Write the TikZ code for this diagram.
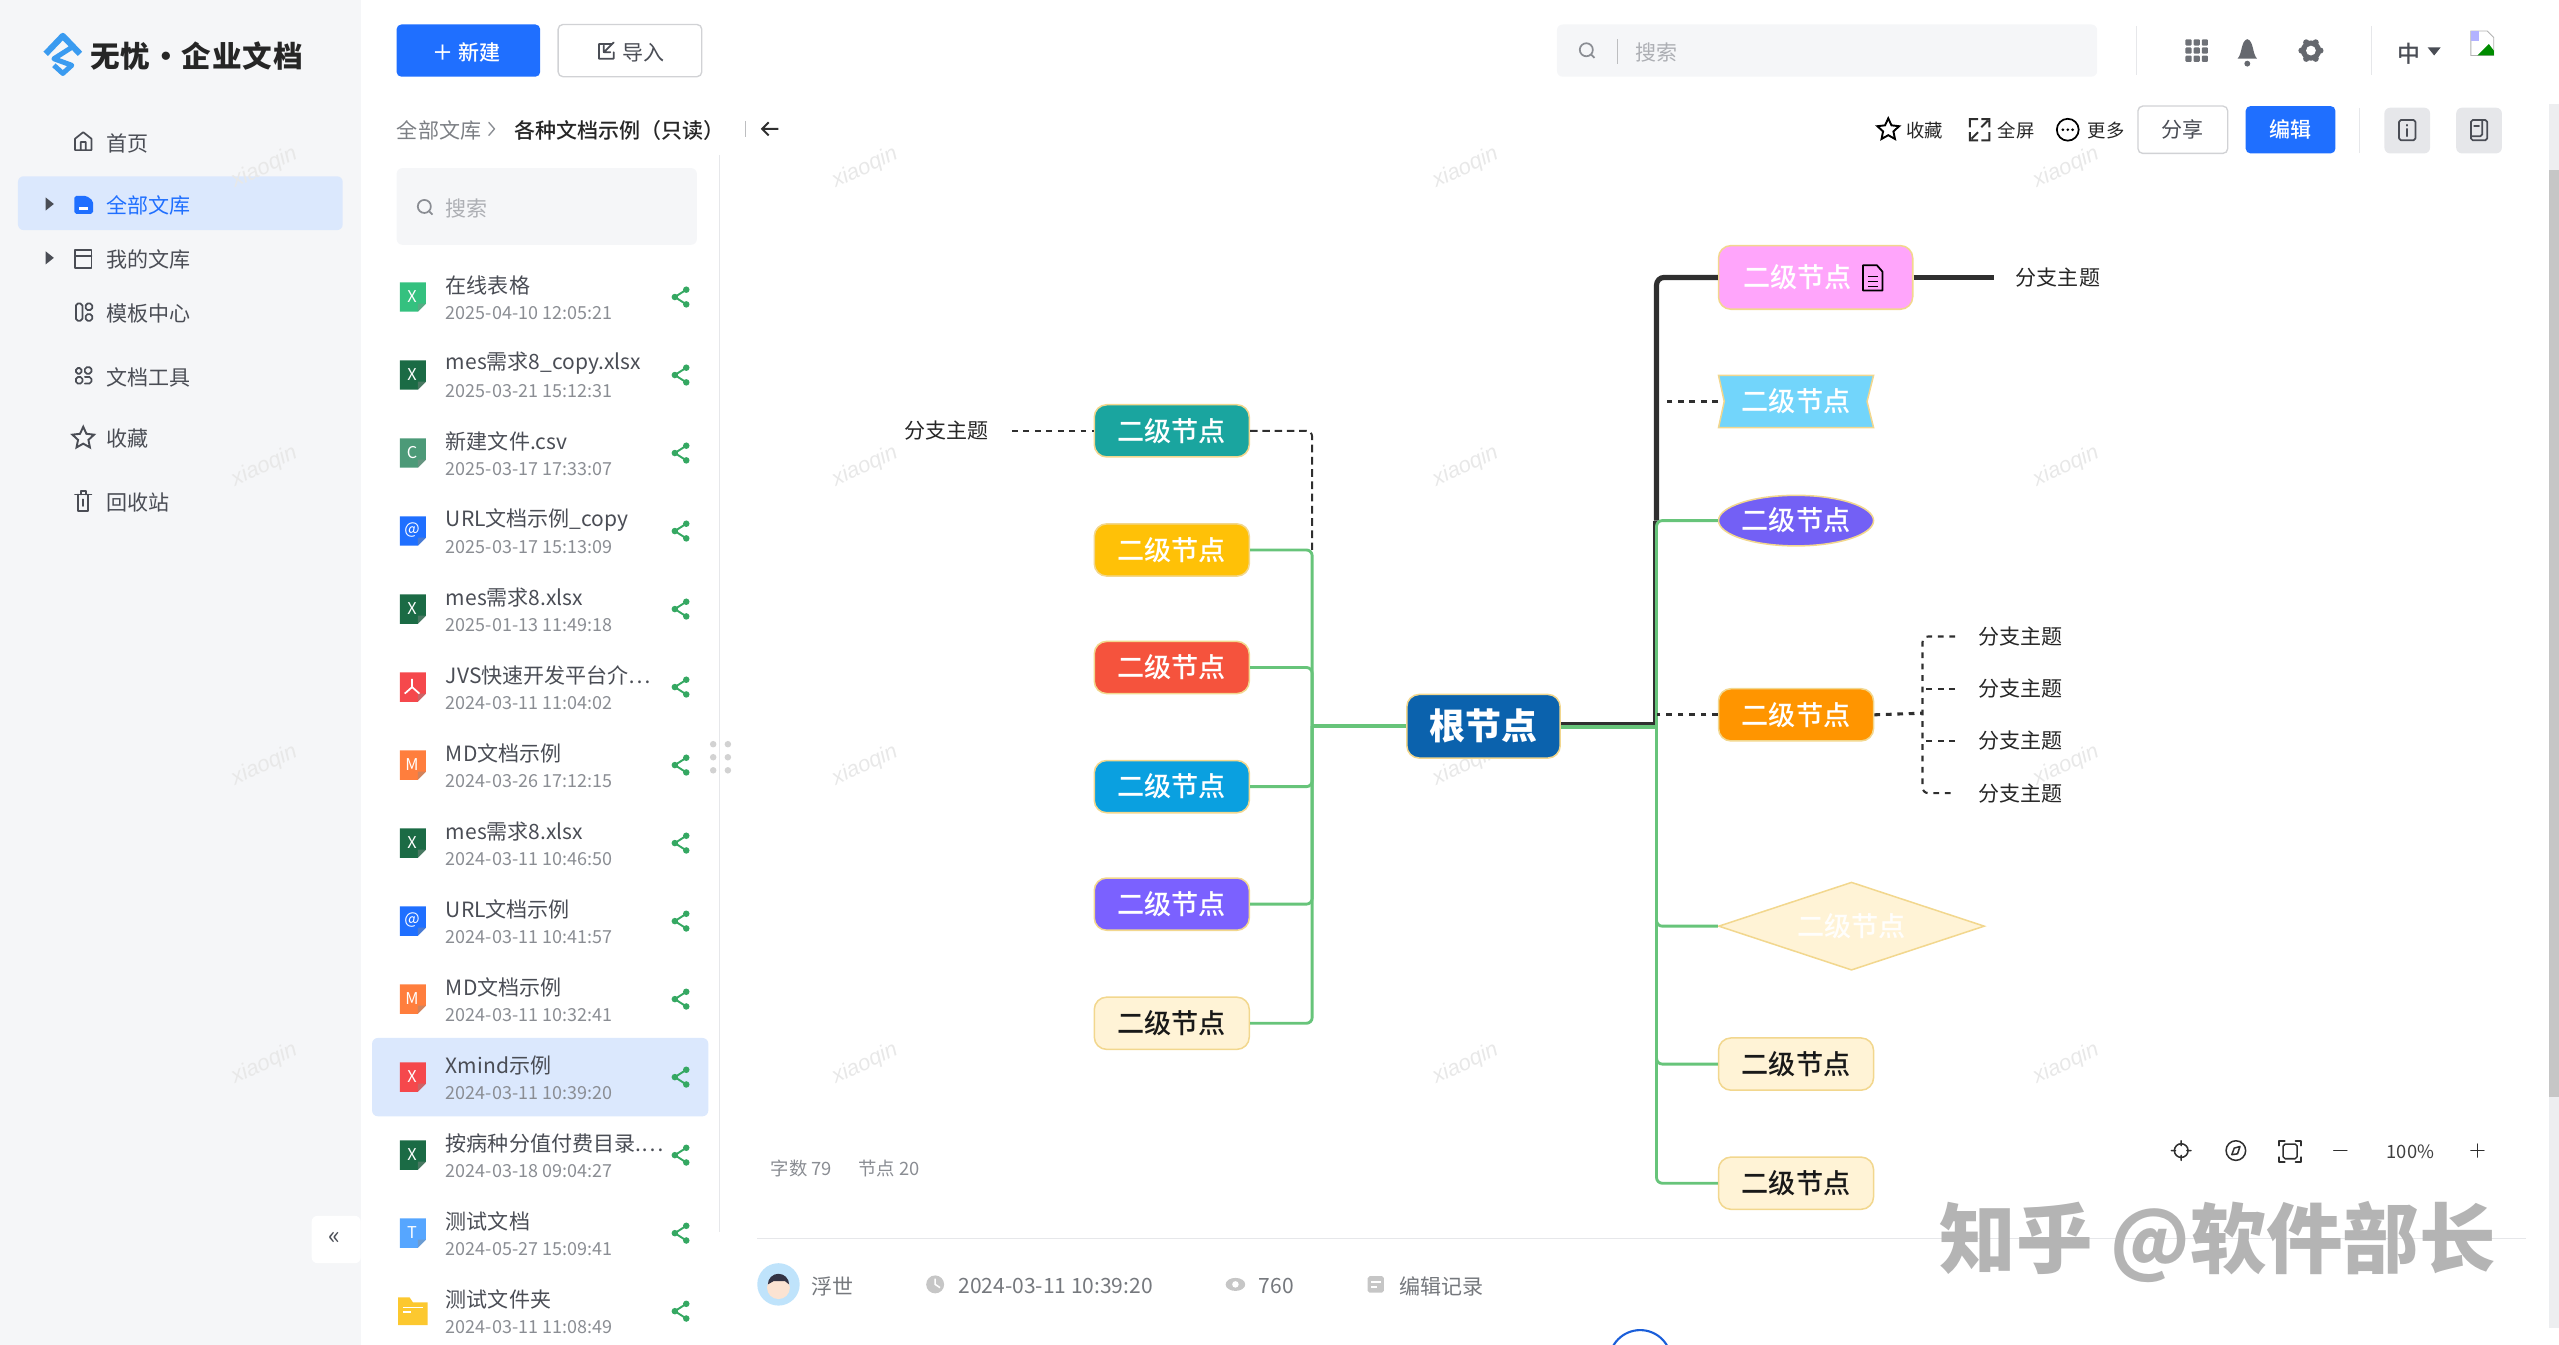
\documentclass[tikz,border=0pt]{standalone}
\usepackage{fontspec}
\setmainfont{Noto Sans CJK SC}
\newfontfamily\medfont{Noto Sans CJK SC Medium}
\newfontfamily\markfont{Liberation Sans}
\usetikzlibrary{shapes.geometric, positioning}
\definecolor{sidebg}{HTML}{F5F6F8}
\definecolor{picked}{HTML}{DBE8FD}
\definecolor{brand}{HTML}{1F6FFF}
\definecolor{logoblue}{HTML}{3A9BF0}
\definecolor{inkgray}{HTML}{4A4D55}
\definecolor{softgray}{HTML}{8A8D93}
\definecolor{hairline}{HTML}{E6E7EA}
\definecolor{sharegreen}{HTML}{35A862}
\definecolor{linkgreen}{HTML}{67C47A}
\definecolor{linkdark}{HTML}{2F2F2F}
\definecolor{creamfill}{HTML}{FFF3D6}
\definecolor{creamedge}{HTML}{F2D78E}
\definecolor{rootblue}{HTML}{0B62AD}
\definecolor{pinknode}{HTML}{FFA5FB}
\definecolor{cyannode}{HTML}{72D5FB}
\definecolor{violetnode}{HTML}{7360F5}
\definecolor{orangenode}{HTML}{FF9500}
\definecolor{folderyellow}{HTML}{FCC82F}
\definecolor{skyring}{HTML}{BFE3FB}
\definecolor{skintone}{HTML}{FBE3D2}
\definecolor{hairtone}{HTML}{333344}
\definecolor{zhihugray}{HTML}{B4B4B4}
\newcommand{\subtitle}{\raisebox{-1.2pt}{二级节点}}
\newcommand{\leaftitle}{\raisebox{-1.2pt}{分支主题}}
\tikzset{
	subnode/.style={draw=creamedge, line width=0.8pt, rounded corners=6.5pt, minimum width=2.85cm, minimum height=0.96cm, inner sep=0pt, text=white, font=\medfont\fontsize{14.2}{16}\selectfont},
	creamnode/.style={subnode, fill=creamfill, text=black!90},
	rootnode/.style={subnode, fill=rootblue, minimum width=2.82cm, minimum height=1.17cm, font=\fontsize{18.8}{20}\bfseries\selectfont},
	leaftext/.style={inner xsep=0.42cm, inner ysep=0pt, text=black!85, font=\fontsize{11}{13}\selectfont},
	greenlink/.style={draw=linkgreen, line width=1.5pt, rounded corners=3pt},
	darklink/.style={draw=linkdark, line width=2.7pt, rounded corners=4pt},
	dashlink/.style={draw=linkdark, line width=1.4pt, dash pattern=on 3pt off 3pt, rounded corners=3pt},
	navtext/.style={anchor=west, inner sep=0pt, yshift=-0.03cm, text=inkgray, font=\fontsize{11}{13}\selectfont},
	nametext/.style={navtext},
	datetext/.style={navtext, text=softgray, font=\fontsize{9.4}{11}\selectfont},
	tooltext/.style={navtext, text=black!85, font=\fontsize{9.6}{11}\selectfont},
	glyph/.style={draw=inkgray, line width=0.9pt, line join=round, line cap=round},
	lightbutton/.style={draw=hairline!80!gray, fill=white, rounded corners=2.5pt, line width=0.7pt, inner sep=0pt, text=inkgray, font=\fontsize{11}{13}\selectfont},
	bluebutton/.style={fill=brand, rounded corners=2.5pt, inner sep=0pt, text=white, font=\medfont\fontsize{11}{13}\selectfont},
	starmark/.style={star, star points=5, star point ratio=2.1, draw=#1, line width=1pt, minimum size=0.42cm, inner sep=0pt},
	xmark/.style={text=black!9, rotate=25, inner sep=0pt, font=\markfont\itshape\fontsize{11.5}{13}\selectfont}
}
\begin{document}
\begin{tikzpicture}[x=0.03cm, y=-0.03cm]
	\useasboundingbox (0,0) rectangle (1568,824.13);

	\fill[sidebg] (0,0) rectangle (221,824.13);
	\fill[picked, rounded corners=3pt] (11,108) rectangle (210,141);
	\fill[picked, rounded corners=3pt] (228,636) rectangle (434,684);
	\fill[sidebg, rounded corners=3pt] (243,103) rectangle (427,150);
	\fill[sidebg, rounded corners=3pt] (954,15) rectangle (1285,47);
	\draw[hairline, line width=0.5pt] (441,95) -- (441,755);
	\draw[hairline, line width=0.7pt] (464,759) -- (1548,759);
	\fill[hairline!70!white] (1562,64) rectangle (1568,814);
	\fill[gray!45] (1562,104) rectangle (1568,672);

	\foreach \x in {162, 530, 898, 1266}
		\foreach \y in {103, 286, 469, 652}
			\node[xmark] (mark\x\y) at (\x,\y) {xiaoqin};

	\draw[line width=3.2pt, draw=logoblue, line join=round] (28,33) -- (38.5,22) -- (49,33);
	\draw[line width=2.6pt, draw=logoblue, line join=round] (44,29) -- (33,36) -- (44,40) -- (38.5,45) -- (33,40);
	\node[navtext, text=black!85, font=\fontsize{15.5}{17}\bfseries\addfontfeatures{LetterSpace=3}] (brandname) at (55,33.5) {无忧·企业文档};

	\foreach \label/\y [count=\s] in {首页/87, 全部文库/125, 我的文库/158, 模板中心/191, 文档工具/230, 收藏/268, 回收站/307}
		\node[navtext] (nav\s) at (65,\y) {\label};
	\fill[picked] (64,115) rectangle (120,135);
	\node[navtext, text=brand] (navpicked) at (65,125) {全部文库};
	\foreach \y in {125, 158}
		\fill[inkgray] (28,\y-4) -- (33,\y) -- (28,\y+4) -- cycle;

	\draw[glyph] (46,92) -- (46,85) -- (51,81) -- (56,85) -- (56,92) -- cycle (49.5,92) -- (49.5,87) -- (52.5,87) -- (52.5,92);
	\fill[brand, rounded corners=1pt] (45.5,120) -- (53,120) -- (57,123) -- (57,131) -- (45.5,131) -- cycle;
	\fill[white] (48.5,127) rectangle (54,128.5);
	\draw[glyph] (46,153) rectangle (56,164) (46,157) -- (56,157);
	\draw[glyph, rounded corners=1pt] (46.5,186) rectangle (50.5,196.5) (52.5,186) rectangle (56.5,190) (52.5,192.5) rectangle (56.5,196.5);
	\draw[glyph, rounded corners=1pt] (46.5,229) -- (46.5,225.5) -- (50,225.5) -- (50,229) -- cycle (52,225) rectangle (56,229) (46.5,231) rectangle (50.5,235) (52,231) -- (56,231) -- (56,235) -- (52,235);
	\node[starmark=inkgray] (navstar) at (51,268.5) {};
	\draw[glyph] (46,303) -- (56,303) (48,303) -- (48,313) -- (54,313) -- (54,303) (49.5,303) -- (49.5,301) -- (52.5,301) -- (52.5,303) (51,306) -- (51,310);

	\node[bluebutton, minimum width=2.64cm, minimum height=0.96cm] (newbtn) at (287,31) {};
	\node[navtext, text=white, font=\medfont\fontsize{11}{13}\selectfont] (newtext) at (265,31) {＋ 新建};
	\node[lightbutton, minimum width=2.64cm, minimum height=0.96cm] (importbtn) at (386,31) {};
	\node[navtext] (importtext) at (381,31) {导入};
	\draw[glyph] (375,27) -- (367,27) -- (367,36) -- (376,36) -- (376,32) (376,26) -- (370,32) (370,28) -- (370,32) -- (374,32);

	\node[navtext, text=softgray!90!black] (crumb) at (243,79) {全部文库};
	\draw[glyph, draw=softgray, line width=0.7pt] (299.5,75) -- (303,79) -- (299.5,83);
	\node[navtext, text=black!85, font=\medfont\fontsize{11}{13}\selectfont] (crumbnow) at (315,79) {各种文档示例（只读）};
	\draw[hairline!60!gray, line width=0.6pt] (457,74) -- (457,84);
	\draw[linkdark, line width=1pt] (477,79) -- (467,79) (471,75) -- (467,79) -- (471,83);

	\foreach \x/\y in {260/127, 972/31}
	{
		\draw[softgray, line width=0.9pt] (\x,\y-0.5) circle (4);
		\draw[softgray, line width=0.9pt] (\x+3,\y+2.5) -- (\x+5,\y+4.5);
	}
	\node[navtext, text=softgray!70] (listsearch) at (273,127) {搜索};
	\node[navtext, text=softgray!70] (topsearch) at (1002,31) {搜索};
	\draw[hairline!60!gray, line width=0.6pt] (991,24) -- (991,39);

	\foreach \x in {1309, 1453}
		\draw[hairline, line width=0.6pt] (\x,16) -- (\x,46);
	\foreach \x in {1341,1346,1351}
		\foreach \y in {26,31,36}
			\fill[inkgray!80, rounded corners=0.5pt] (\x-1.9,\y-1.9) rectangle (\x+1.9,\y+1.9);
	\fill[inkgray!85] (1371,36) .. controls (1374,33) and (1373,25) .. (1377,24) .. controls (1381,25) and (1380,33) .. (1383,36) -- cycle;
	\fill[inkgray!85] (1377,39) circle (1.8);
	\fill[inkgray!85] (1416,31) circle (6.2);
	\foreach \a in {0,60,...,300}
		\fill[inkgray!85] (1416,31) ++(\a:5.8) circle (1.9);
	\fill[white] (1416,31) circle (3);
	\node[navtext, text=inkgray, font=\medfont\fontsize{12}{14}\selectfont] (lang) at (1469,32) {中};
	\fill[inkgray] (1487.5,29) -- (1495.5,29) -- (1491.5,34) -- cycle;
	\draw[gray!60, fill=white, line width=0.5pt] (1514,19) -- (1524,19) -- (1528,23) -- (1528,34) -- (1514,34) -- cycle;
	\fill[green!55!black] (1518,34) -- (1525,27) -- (1528,31) -- (1528,34) -- cycle;
	\fill[blue!30] (1514,19) rectangle (1519,25);

	\node[starmark=black] (favstar) at (1157,79.5) {};
	\node[tooltext] (favtext) at (1168,79) {收藏};
	\draw[linkdark, line width=1pt] (1207,78) -- (1207,73) -- (1212,73) (1214,73) -- (1219,73) -- (1219,78) (1219,81) -- (1219,86) -- (1214,86) (1212,86) -- (1207,86) -- (1207,81) (1212,81) -- (1208,85) (1214,78) -- (1218,74);
	\node[tooltext] (fulltext) at (1224,79) {全屏};
	\draw[black, line width=0.9pt] (1267,79.5) circle (6.7);
	\foreach \x in {1264,1267,1270}
		\fill[black] (\x,79.5) circle (0.9);
	\node[tooltext] (moretext) at (1279,79) {更多};
	\node[lightbutton, minimum width=1.65cm, minimum height=0.87cm] (sharebtn) at (1337.5,79.5) {分享};
	\node[bluebutton, minimum width=1.65cm, minimum height=0.87cm] (editbtn) at (1403.5,79.5) {编辑};
	\draw[hairline, line width=0.6pt] (1446,66) -- (1446,94);
	\fill[hairline, rounded corners=3pt] (1461,66) rectangle (1489,94);
	\fill[hairline, rounded corners=3pt] (1505,66) rectangle (1533,94);
	\draw[glyph, rounded corners=1pt] (1470,73.5) rectangle (1480,86);
	\draw[glyph] (1475,76.5) -- (1475,77) (1475,79) -- (1475,83.5);
	\draw[glyph, rounded corners=1pt] (1514,73.5) rectangle (1524,86) (1514,83.5) -- (1521,83.5) -- (1521,73.5);
	\draw[glyph] (1516,77) -- (1519,77);

	\foreach \label/\when [count=\s] in {在线表格/2025-04-10 12:05:21, mes需求8\_copy.xlsx/2025-03-21 15:12:31, 新建文件.csv/2025-03-17 17:33:07, URL文档示例\_copy/2025-03-17 15:13:09, mes需求8.xlsx/2025-01-13 11:49:18, JVS快速开发平台介…/2024-03-11 11:04:02, MD文档示例/2024-03-26 17:12:15, mes需求8.xlsx/2024-03-11 10:46:50, URL文档示例/2024-03-11 10:41:57, MD文档示例/2024-03-11 10:32:41, Xmind示例/2024-03-11 10:39:20, 按病种分值付费目录.…/2024-03-18 09:04:27, 测试文档/2024-05-27 15:09:41, 测试文件夹/2024-03-11 11:08:49}
	{
		\pgfmathsetmacro{\c}{182+47.8*(\s-1)}
		\node[nametext] (name\s) at (273,\c-8) {\label};
		\node[datetext] (date\s) at (273,\c+9) {\when};
		\fill[sharegreen] (413.5,\c) circle (2);
		\fill[sharegreen] (420.5,\c-4.5) circle (2);
		\fill[sharegreen] (420.5,\c+4.5) circle (2);
		\draw[sharegreen, line width=1pt] (420.5,\c-4.5) -- (413.5,\c) -- (420.5,\c+4.5);
	}
	\foreach \tint/\sign [count=\s] in {34C17F/X, 1B6B45/X, 4C9A78/C, 1F6FFF/@, 1B6B45/X, F5484C/{}, FF7E3D/M, 1B6B45/X, 1F6FFF/@, FF7E3D/M, F5484C/X, 1B6B45/X, 56A6FF/T}
	{
		\pgfmathsetmacro{\c}{182+47.8*(\s-1)}
		\definecolor{filetint}{HTML}{\tint}
		\fill[filetint] (245,\c-9) -- (261,\c-9) -- (261,\c+4) -- (256,\c+9) -- (245,\c+9) -- cycle;
		\fill[white!55!black, opacity=0.4] (261,\c+4) -- (256,\c+4) -- (256,\c+9) -- cycle;
		\node[inner sep=0pt, text=white, font=\fontsize{8.5}{9}\selectfont] (sign\s) at (252.5,\c-0.5) {\sign};
	}
	\draw[white, line width=0.9pt] (252.5,416) -- (252.5,421) (248,425) -- (252.5,421) -- (257,425);
	\fill[folderyellow] (244,795) -- (251,795) -- (253,798) -- (262,798) -- (262,812) -- (244,812) -- cycle;
	\draw[white, line width=0.7pt] (247,801) -- (259,801) (247,804) -- (252,804);

	\foreach \x in {437,446}
		\foreach \y in {456,464,472}
			\fill[gray!35] (\x,\y) circle (2);

	\fill[white, rounded corners=3pt] (191,745) rectangle (221,774);
	\node[inner sep=0pt, text=inkgray, font=\fontsize{13}{13}\selectfont] (fold) at (205,759) {«};

	\node[tooltext, text=softgray] (stats) at (472,715) {字数 79\hspace{1.45em}节点 20};

	\draw[glyph, draw=linkdark, line width=0.8pt] (1336.5,705) circle (4.2) (1336.5,699) -- (1336.5,702) (1336.5,708) -- (1336.5,711) (1330.5,705) -- (1333,705) (1340,705) -- (1342.5,705);
	\draw[glyph, draw=linkdark, line width=0.8pt] (1370,705) circle (6) (1372.5,702.5) -- (1371,707) -- (1367.5,707.5) -- (1369,703.5) -- cycle;
	\draw[glyph, draw=linkdark, line width=0.8pt] (1396.5,702) -- (1396.5,699) -- (1400,699) (1406.5,699) -- (1410,699) -- (1410,702) (1410,709) -- (1410,712) -- (1406.5,712) (1400,712) -- (1396.5,712) -- (1396.5,709);
	\draw[glyph, draw=linkdark, line width=0.8pt, rounded corners=1pt] (1399,701) rectangle (1407.5,710);
	\draw[glyph, draw=linkdark, line width=0.8pt] (1430,705) -- (1438,705) (1514,705) -- (1522,705) (1518,701) -- (1518,709);
	\node[inner sep=0pt, text=black!75, font=\fontsize{9.6}{11}\selectfont] (zoomtext) at (1477,706) {100\%};

	\fill[skyring] (477,787) circle (13);
	\fill[skintone] (477,789) circle (7);
	\fill[hairtone] (470.5,787) arc (180:360:6.5) -- (481,785) -- (474,785) -- cycle;
	\node[navtext, text=softgray!85!black] (author) at (497,787) {浮世};
	\fill[gray!45] (573,787) circle (5.5);
	\draw[white, line width=0.8pt] (573,783.5) -- (573,787) -- (576,789);
	\node[navtext, text=softgray!85!black] (stamp) at (587,787) {2024-03-11 10:39:20};
	\fill[gray!45] (757,787) ellipse (6 and 4);
	\fill[white] (757,787) circle (2);
	\node[navtext, text=softgray!85!black] (views) at (771,787) {760};
	\fill[gray!45, rounded corners=1pt] (838,782) rectangle (848,792);
	\draw[white, line width=0.7pt] (840,785.5) -- (846,785.5) (840,788.5) -- (844,788.5);
	\node[navtext, text=softgray!85!black] (history) at (857,787) {编辑记录};
	\draw[brand!85!black, line width=1.1pt] (1005,834) circle (19);

	\foreach \tint/\y [count=\s] in {1AA59F/264, FFC107/337, F5533D/409, 0AA0E0/482, 7B61FF/554}
	{
		\definecolor{nodetint}{HTML}{\tint}
		\node[subnode, fill=nodetint] (l\s) at (718,\y) {\subtitle};
	}
	\node[creamnode] (l6) at (718,627) {\subtitle};
	\node[rootnode] (root) at (909,445) {\raisebox{-1pt}{根节点}};

	\coordinate (ltrunk) at (804,445);
	\coordinate (ltop) at (804,337);
	\coordinate (rtrunk) at (1015,445);
	\coordinate (rmid) at (1015,319);
	\coordinate (r1tip) at (1222,170);
	\coordinate (r2foot) at (1018,246);
	\coordinate (r4foot) at (1015,438);
	\coordinate (rjoin) at (1178,437);

	\node[leaftext] (t0) at (580,264) {\leaftitle};
	\draw[dashlink] (t0.east) -- (l1.west);
	\draw[dashlink, line width=1pt, dash pattern=on 4pt off 2.4pt] (l1.east) -| (ltop);
	\foreach \s in {2,...,6}
		\draw[greenlink] (l\s.east) -| (ltrunk);
	\draw[greenlink, line width=2pt] (root.west) -- (ltrunk);

	\node[subnode, fill=pinknode, minimum width=3.57cm, minimum height=1.17cm, text width=2.67cm, align=left] (r1) at (1112.5,170) {\subtitle};
	\draw[line width=0.9pt, black, fill=pinknode, line join=round] (1141.5,162.5) -- (1150,162.5) -- (1153.5,166.5) -- (1153.5,178) -- (1141.5,178) -- cycle;
	\foreach \y in {169.5,172.5,175.5}
		\draw[black, line width=0.7pt] (1144.5,\y) -- (1151,\y);
	\draw[fill=cyannode, draw=creamedge, line width=0.8pt] (1053,230) -- (1148,230) -- (1144,246) -- (1148,262) -- (1053,262) -- (1056.5,246) -- cycle;
	\node[inner sep=0pt, minimum width=2.85cm, minimum height=0.96cm, text=white, font=\medfont\fontsize{14.2}{16}\selectfont] (r2) at (1100.5,246) {\subtitle};
	\node[subnode, ellipse, fill=violetnode, minimum height=0.93cm] (r3) at (1100.5,319) {\subtitle};
	\node[subnode, fill=orangenode] (r4) at (1100.5,438) {\subtitle};
	\node[subnode, diamond, aspect=3, rounded corners=0pt, fill=creamfill, text=white!92!creamfill, minimum width=4.89cm, minimum height=1.62cm] (r5) at (1134.5,567.5) {\subtitle};
	\node[creamnode] (r6) at (1100.5,652) {\subtitle};
	\node[creamnode] (r7) at (1100.5,725) {\subtitle};

	\node[leaftext] (t1) at (1261,170) {\leaftitle};
	\foreach \y [count=\s from 2] in {390,422,454,486}
		\node[leaftext] (t\s) at (1238,\y) {\leaftitle};

	\draw[darklink] (r1.west) -| (rmid);
	\draw[darklink] (r1.east) -- (r1tip);
	\draw[dashlink] (r2.west) -- (r2foot);
	\draw[draw=linkdark, line width=1.8pt] ([xshift=-0.03cm]rmid) -- ([xshift=-0.03cm]rtrunk);
	\draw[draw=linkdark, line width=3pt] ([yshift=0.02cm]root.east) -- ([yshift=0.02cm]rtrunk);
	\draw[greenlink, line width=2.2pt] ([yshift=-0.02cm]root.east) -- ([yshift=-0.02cm]rtrunk);
	\draw[greenlink] (r3.west) -| (rtrunk);
	\draw[dashlink] (r4.west) -- (r4foot);
	\draw[greenlink] (r5.west) -| (rtrunk);
	\draw[greenlink] (r6.west) -| (rtrunk);
	\draw[greenlink] (r7.west) -| (rtrunk);
	\draw[dashlink, line width=1.6pt] (r4.east) -- (rjoin);
	\draw[dashlink, line width=1.1pt] (t2.west) -| (t5.west -| rjoin) -- (t5.west);
	\foreach \s in {3,4}
		\draw[dashlink, line width=1.1pt] (t\s.west) -- (t\s.west -| rjoin);

	\node[inner sep=0pt, text=zhihugray, font=\fontsize{40}{44}\bfseries\selectfont] (zhihu) at (1359,761) {知乎 @软件部长};
\end{tikzpicture}
\end{document}
